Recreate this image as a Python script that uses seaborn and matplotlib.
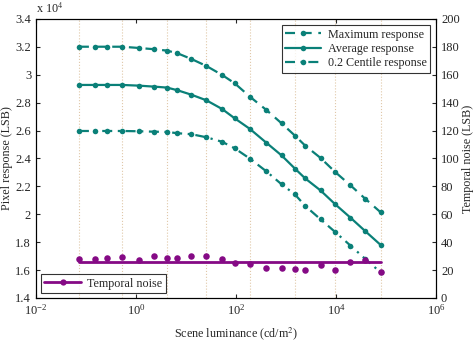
import matplotlib
matplotlib.use("Agg")
import matplotlib.pyplot as plt
import seaborn as sns
from matplotlib.lines import Line2D
from matplotlib.ticker import FixedLocator, NullLocator

# Scene luminance levels (cd/m^2)
luminance = [0.072, 0.151, 0.265, 0.528, 1.14, 2.30, 4.18, 6.73, 12.8, 25.5, 52.4,
             93.8, 189, 403, 813, 1500, 2415, 4887, 9594, 19360, 38110, 78000]

# Pixel response (x 10^4 LSB)
max_response = [3.201, 3.201, 3.201, 3.201, 3.192, 3.183, 3.173, 3.154, 3.113, 3.063, 2.999,
                2.939, 2.843, 2.748, 2.652, 2.564, 2.492, 2.404, 2.303, 2.208, 2.112, 2.014]
avg_response = [2.927, 2.927, 2.927, 2.927, 2.922, 2.915, 2.908, 2.889, 2.857, 2.817, 2.755,
                2.688, 2.612, 2.513, 2.422, 2.328, 2.257, 2.171, 2.072, 1.976, 1.880, 1.780]
centile_response = [2.597, 2.597, 2.597, 2.597, 2.595, 2.592, 2.590, 2.581, 2.574, 2.552, 2.520,
                    2.473, 2.399, 2.308, 2.215, 2.143, 2.060, 1.964, 1.873, 1.776, 1.681, 1.583]

# Temporal noise (LSB)
temporal_noise = [28.0, 27.7, 28.5, 29.2, 27.0, 30.1, 28.5, 28.5, 30.1, 30.1, 28.2,
                  25.3, 24.4, 21.7, 21.5, 20.8, 20.1, 23.4, 20.1, 25.6, 27.0, 18.6]
noise_level = 25.8

TEAL = "#0a8078"
PURPLE = "#850a85"
FS = 8.7

sns.set_style("ticks")
plt.rcParams["font.family"] = ["Liberation Serif", "DejaVu Serif"]
plt.rcParams["mathtext.fontset"] = "stix"
plt.rcParams["xtick.direction"] = "in"
plt.rcParams["ytick.direction"] = "in"

fig = plt.figure(figsize=(4.74, 3.51), dpi=100)
ax = fig.add_axes([0.076, 0.151, 0.844, 0.795])
ax2 = ax.twinx()

# vertical guide lines at every third luminance level
for lv in luminance[::3]:
    ax.axvline(lv, color="#e0c8a8", linestyle=":", linewidth=0.8, zorder=0)

sns.lineplot(x=luminance, y=max_response, ax=ax, color=TEAL, linewidth=1.6,
             marker="o", markersize=4, markeredgewidth=0, label="Maximum response")
sns.lineplot(x=luminance, y=avg_response, ax=ax, color=TEAL, linewidth=1.6,
             marker="o", markersize=4, markeredgewidth=0, label="Average response")
sns.lineplot(x=luminance, y=centile_response, ax=ax, color=TEAL, linewidth=1.6,
             marker="o", markersize=4, markeredgewidth=0, label="0.2 Centile response")
ax.lines[-3].set_linestyle((0, (4.5, 3)))
ax.lines[-1].set_linestyle((0, (4.5, 2.5, 1, 2.5)))

sns.lineplot(x=luminance, y=[noise_level] * len(luminance), ax=ax2, color=PURPLE, linewidth=2)
sns.scatterplot(x=luminance, y=temporal_noise, ax=ax2, color=PURPLE, s=22, linewidth=0)

ax.set_xscale("log")
ax.set_xlim(1e-2, 1e6)
ax.set_ylim(1.4, 3.4)
ax2.set_ylim(0, 200)
ax.xaxis.set_major_locator(FixedLocator([1e-2, 1e0, 1e2, 1e4, 1e6]))
ax.xaxis.set_minor_locator(NullLocator())
ax.set_yticks([1.4, 1.6, 1.8, 2.0, 2.2, 2.4, 2.6, 2.8, 3.0, 3.2, 3.4])
ax.set_yticklabels(["1.4", "1.6", "1.8", "2", "2.2", "2.4", "2.6", "2.8", "3", "3.2", "3.4"])
ax2.set_yticks(range(0, 201, 20))
ax.tick_params(axis="both", labelsize=9, length=3, width=0.8, top=True)
ax2.tick_params(axis="y", labelsize=9, length=3, width=0.8)

for a in (ax, ax2):
    for s in a.spines.values():
        s.set_color("black")
        s.set_linewidth(0.8)

ax.set_xlabel("Scene luminance (cd/m$^2$)", fontsize=FS, labelpad=6)
ax.set_ylabel("Pixel response (LSB)", fontsize=FS)
ax2.set_ylabel("Temporal noise (LSB)", fontsize=FS)
ax.yaxis.set_label_coords(-0.058, 0.5)
ax2.yaxis.set_label_coords(1.066, 0.5)
ax.text(0.0, 1.012, r"x 10$^4$", transform=ax.transAxes, fontsize=FS, va="bottom", ha="left")

leg1 = ax.legend(loc="upper right", fontsize=FS, frameon=True, fancybox=False, edgecolor="black",
                 handlelength=3.0, borderpad=0.3, labelspacing=0.2, handletextpad=0.5,
                 borderaxespad=0.5)
leg1.get_frame().set_linewidth(0.8)

noise_handle = Line2D([], [], color=PURPLE, linewidth=2, marker="o", markersize=4.5,
                      markeredgewidth=0)
leg2 = ax2.legend([noise_handle], ["Temporal noise"], loc="lower left", fontsize=FS,
                  frameon=True, fancybox=False, edgecolor="black", handlelength=3.0,
                  borderpad=0.3, handletextpad=0.5, borderaxespad=0.4)
leg2.get_frame().set_linewidth(0.8)

fig.savefig("out.png", dpi=100)
